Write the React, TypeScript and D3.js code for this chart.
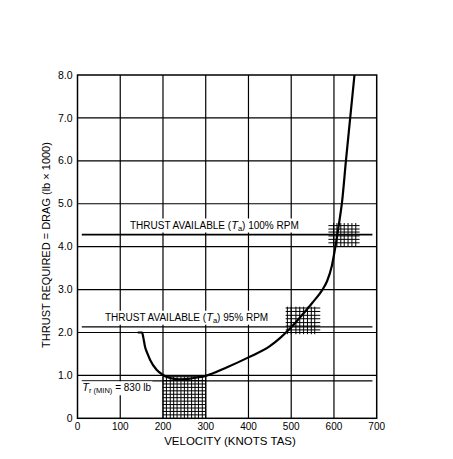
import React, { useEffect, useRef } from "react";
import * as d3 from "d3";

const velocityTicks = [0, 100, 200, 300, 400, 500, 600, 700];
const thrustTicks = [0, 1, 2, 3, 4, 5, 6, 7, 8];
const thrustTickLabels = ["0", "1.0", "2.0", "3.0", "4.0", "5.0", "6.0", "7.0", "8.0"];

const dragVelocity = [141, 151, 154, 158, 164, 170, 185, 200, 220, 240, 260, 280, 300, 350, 400, 450, 475, 500, 525, 550, 572, 584, 595, 603, 612, 619, 628, 638, 648];
const dragThrust = [2.0, 2.0, 1.88, 1.67, 1.5, 1.36, 1.13, 1.01, 0.93, 0.91, 0.92, 0.95, 0.99, 1.19, 1.42, 1.68, 1.88, 2.12, 2.4, 2.7, 2.98, 3.2, 3.55, 3.98, 4.55, 5.05, 6.0, 7.0, 8.0];

const thrust100 = 4.28;
const thrust95 = 2.13;
const thrustMin = 0.87;
const refLineVelocity = [10, 690];

const hatchA_v = [200, 208, 217, 225, 233, 242, 250, 258, 267, 275, 283, 292, 300];
const hatchA_vRange = [0, 0.97];
const hatchA_t = [0.08, 0.16, 0.24, 0.32, 0.4, 0.48, 0.56, 0.64, 0.72, 0.8, 0.88, 0.97];
const hatchA_tRange = [200, 300];

const hatchB_v = [491, 500, 511, 520, 529, 538, 547, 555];
const hatchB_vRange = [1.96, 2.6];
const hatchB_t = [2.06, 2.15, 2.23, 2.32, 2.4, 2.49, 2.57];
const hatchB_tRange = [487, 568];

const hatchC_v = [599, 607, 616, 624, 633, 642, 651];
const hatchC_vRange = [4.0, 4.55];
const hatchC_t = [4.09, 4.17, 4.25, 4.34, 4.41, 4.49];
const hatchC_tRange = [587, 660];

const label100 = ["THRUST AVAILABLE (", "T", "a", ") 100% RPM"];
const label95 = ["THRUST AVAILABLE (", "T", "a", ") 95% RPM"];
const labelMin = ["T", "r (MIN)", " = 830 lb"];

export default function App() {
  const ref = useRef<SVGSVGElement>(null);
  useEffect(() => {
    const svg = d3.select(ref.current);
    svg.selectAll("*").remove();
    const font = "'Liberation Sans', Arial, Helvetica, sans-serif";
    const x = d3.scaleLinear().domain([0, 700]).range([77.5, 376.7]);
    const y = d3.scaleLinear().domain([0, 8]).range([418.3, 75]);

    const g = svg.append("g");
    // grid
    g.selectAll("line.vg").data(velocityTicks.slice(1, -1)).join("line")
      .attr("x1", (d) => x(d)).attr("x2", (d) => x(d)).attr("y1", y(0)).attr("y2", y(8))
      .attr("stroke", "#000").attr("stroke-width", 1.2);
    g.selectAll("line.hg").data(thrustTicks.slice(1, -1)).join("line")
      .attr("x1", x(0)).attr("x2", x(700)).attr("y1", (d) => y(d)).attr("y2", (d) => y(d))
      .attr("stroke", "#000").attr("stroke-width", 1.2);
    // frame
    g.append("rect").attr("x", x(0)).attr("y", y(8)).attr("width", x(700) - x(0)).attr("height", y(0) - y(8))
      .attr("fill", "none").attr("stroke", "#000").attr("stroke-width", 1.5);

    // hatches
    const hatch = (vs: number[], vr: number[], ts: number[], tr: number[]) => {
      const hg = g.append("g").attr("stroke", "#000").attr("stroke-width", 1);
      hg.selectAll("line.v").data(vs).join("line")
        .attr("x1", (d) => x(d)).attr("x2", (d) => x(d)).attr("y1", y(vr[0])).attr("y2", y(vr[1]));
      hg.selectAll("line.t").data(ts).enter().append("line")
        .attr("x1", x(tr[0])).attr("x2", x(tr[1])).attr("y1", (d) => y(d)).attr("y2", (d) => y(d));
    };
    hatch(hatchA_v, hatchA_vRange, hatchA_t, hatchA_tRange);
    hatch(hatchB_v, hatchB_vRange, hatchB_t, hatchB_tRange);
    hatch(hatchC_v, hatchC_vRange, hatchC_t, hatchC_tRange);

    // reference lines
    [thrust100, thrust95, thrustMin].forEach((t, i) => {
      g.append("line").attr("x1", x(refLineVelocity[0])).attr("x2", x(refLineVelocity[1]))
        .attr("y1", y(t)).attr("y2", y(t)).attr("stroke", "#000").attr("stroke-width", i === 0 ? 1.6 : 1.3);
    });

    // labels with white background
    const addLabel = (px: number, py: number, parts: string[], sub: number) => {
      const lg = g.append("g");
      const bg = lg.append("rect").attr("fill", "#fff");
      const t = lg.append("text").attr("x", px).attr("y", py).attr("font-family", font).attr("font-size", 10).attr("fill", "#000");
      parts.forEach((p, i) => {
        const ts = t.append("tspan").text(p);
        if (p === "T") ts.attr("font-style", "italic").attr("font-size", 11);
        if (i === sub) ts.attr("font-size", 7.5).attr("dy", 2);
        if (i === sub + 1) ts.attr("dy", -2);
      });
      const bb = (t.node() as SVGTextElement).getBBox();
      bg.attr("x", bb.x - 1).attr("y", bb.y).attr("width", bb.width + 2).attr("height", bb.height);
    };
    addLabel(130, 228.5, label100, 2);
    addLabel(105, 320.7, label95, 2);
    addLabel(82.3, 391.3, labelMin, 1);

    // drag curve
    const pts = dragVelocity.map((v, i) => [v, dragThrust[i]] as [number, number]);
    const line = d3.line<[number, number]>().x((d) => x(d[0])).y((d) => y(d[1])).curve(d3.curveMonotoneX);
    g.append("path").attr("d", line(pts)).attr("fill", "none").attr("stroke", "#000").attr("stroke-width", 2.2);

    // tick labels
    g.selectAll("text.xt").data(velocityTicks).join("text")
      .attr("x", (d) => x(d)).attr("y", 430).attr("text-anchor", "middle")
      .attr("font-family", font).attr("font-size", 10).text((d) => String(d));
    g.selectAll("text.yt").data(thrustTicks).enter().append("text")
      .attr("x", 72.5).attr("y", (d) => y(d) + 3.6).attr("text-anchor", "end")
      .attr("font-family", font).attr("font-size", 10.5).text((d, i) => thrustTickLabels[i]);

    // axis titles
    g.append("text").attr("x", 230).attr("y", 445).attr("text-anchor", "middle")
      .attr("font-family", font).attr("font-size", 11.5).text("VELOCITY (KNOTS TAS)");
    g.append("text").attr("transform", "translate(50,245) rotate(-90)").attr("text-anchor", "middle")
      .attr("font-family", font).attr("font-size", 11).text("THRUST REQUIRED = DRAG (lb \u00d7 1000)");
  }, []);
  return (
    <svg ref={ref} width={453} height={459} style={{ position: "absolute", left: 0, top: 0, background: "#fff" }} />
  );
}
